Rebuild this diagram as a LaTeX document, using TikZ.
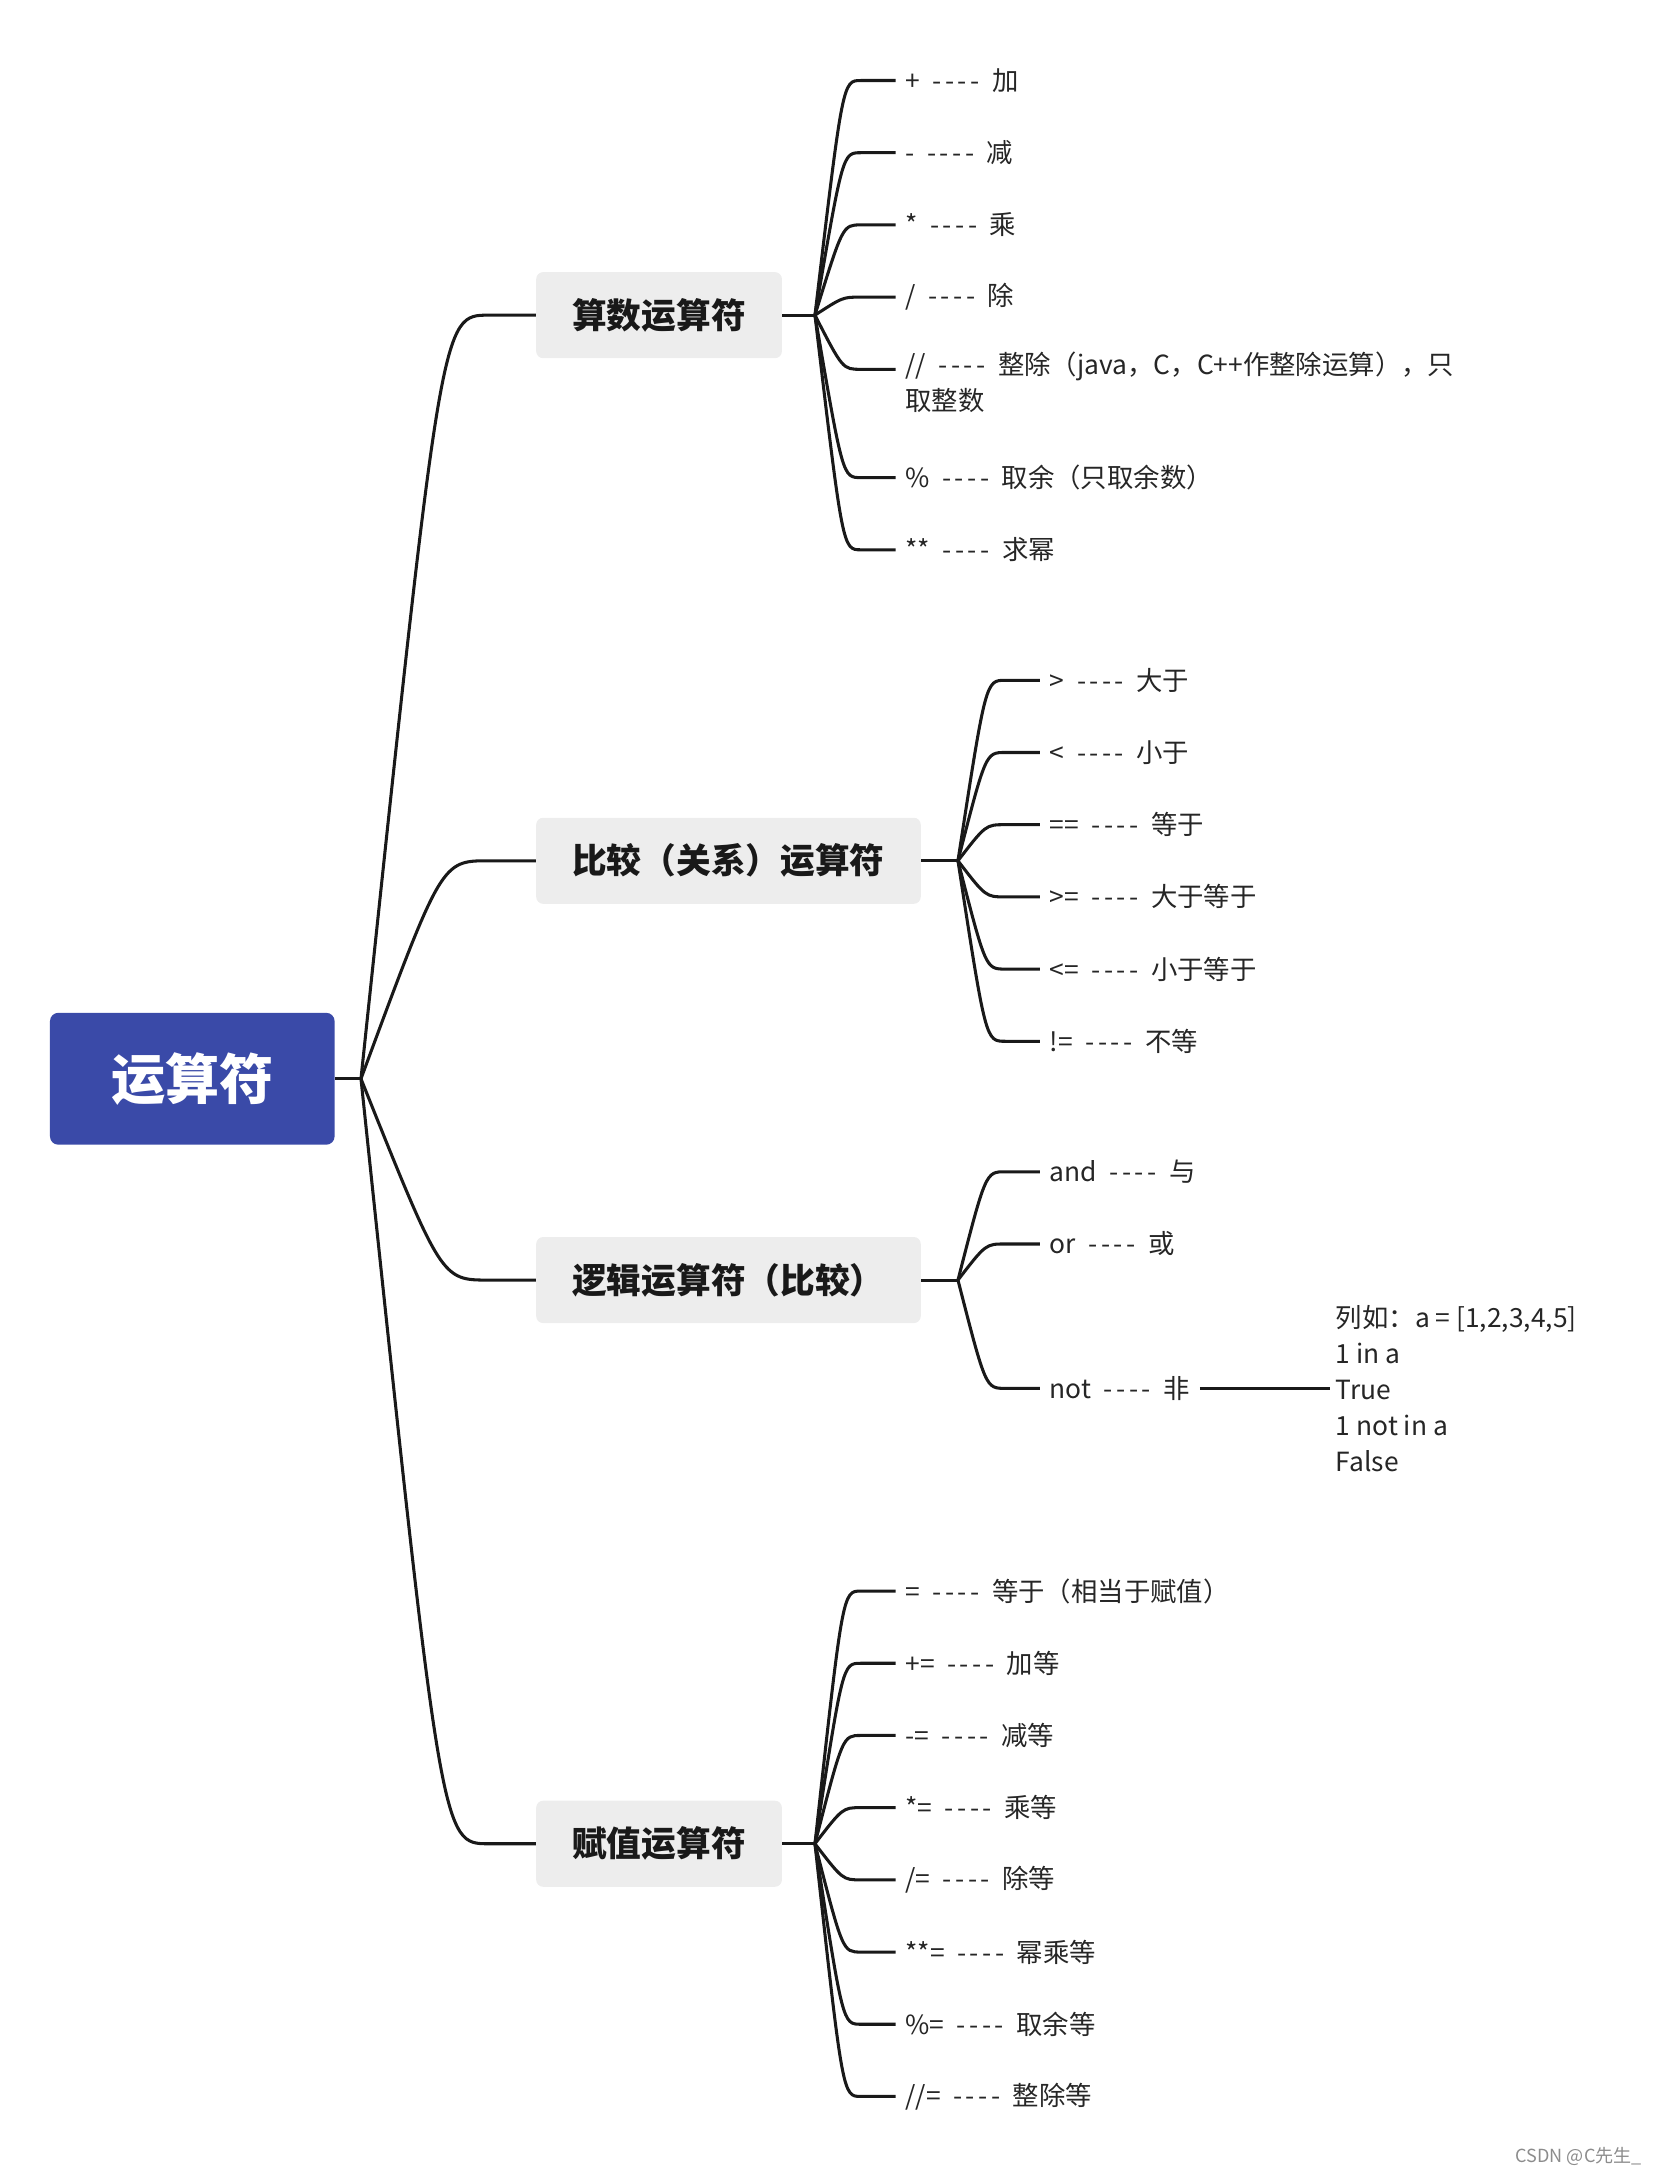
\documentclass[tikz,border=0pt]{standalone}
\usepackage{fontspec}
\setmainfont{Noto Sans CJK SC}
\newcommand\dsh{\hspace{9pt}\mbox{-}\kern2.5pt\mbox{-}\kern2.5pt\mbox{-}\kern2.5pt\mbox{-}\hspace{9pt}}
\begin{document}
\begin{tikzpicture}[x=1pt,y=-1pt,
  conn/.style={line width=2.2pt,black!90},
  leaf/.style={anchor=west,inner xsep=7pt,inner ysep=2pt,font=\fontsize{19}{26}\selectfont,text=black!85},
  br/.style={fill=black!7,rounded corners=5pt,minimum height=62pt,inner xsep=26pt,font=\fontsize{25}{30}\selectfont\bfseries,text=black!90}]
\useasboundingbox (0,0) rectangle (1193,1563);
\node[fill={rgb,255:red,58;green,74;blue,168},rounded corners=6pt,minimum width=205pt,minimum height=95pt,text=white,font=\fontsize{39}{44}\selectfont\bfseries] (root) at (138.5,777) {运算符};
\coordinate (rj) at (260,777);
\node[br,anchor=west] (b1) at (386,227) {算数运算符};
\node[br,anchor=west] (b2) at (386,620) {比较（关系）运算符};
\node[br,anchor=west] (b3) at (386,922) {逻辑运算符（比较）};
\node[br,anchor=west] (b4) at (386,1328) {赋值运算符};
\draw[conn] (root.east) -- (rj);
\foreach \b/\y in {b1/227,b2/620,b3/922,b4/1328}
  \draw[conn] (rj) .. controls (318,\y) .. (352,\y) -- (\b.west);
% branch 1
\coordinate (j1) at (587,227);
\draw[conn] (b1.east) -- (j1);
\foreach \n/\y/\t in {a1/58/{+\dsh 加},a2/110/{-\dsh 减},a3/162/{*\dsh 乘},a4/214/{/\dsh 除},a6/344/{\%\dsh 取余（只取余数）},a7/396/{**\dsh 求幂}}{
  \node[leaf] (\n) at (645,\y) {\t};
  \draw[conn] (j1) .. controls (607,\y) .. (620,\y) -- (\n.west);
}
\node[leaf,anchor=north west,align=left] (a5) at (645,251) {//\dsh 整除（java，C，C++作整除运算），只\\取整数};
\coordinate (a5c) at (645,266);
\draw[conn] (j1) .. controls (607,266) .. (620,266) -- (a5c);
% branch 2
\coordinate (j2) at (690,620);
\draw[conn] (b2.east) -- (j2);
\foreach \n/\y/\t in {c1/490/{>\dsh 大于},c2/542/{<\dsh 小于},c3/594/{==\dsh 等于},c4/646/{>=\dsh 大于等于},c5/698/{<=\dsh 小于等于},c6/750/{!=\dsh 不等}}{
  \node[leaf] (\n) at (749,\y) {\t};
  \draw[conn] (j2) .. controls (710,\y) .. (724,\y) -- (\n.west);
}
% branch 3
\coordinate (j3) at (690,922);
\draw[conn] (b3.east) -- (j3);
\foreach \n/\y/\t in {d1/844/{and\dsh 与},d2/896/{or\dsh 或},d3/1000/{not\dsh 非}}{
  \node[leaf] (\n) at (749,\y) {\t};
  \draw[conn] (j3) .. controls (710,\y) .. (724,\y) -- (\n.west);
}
\node[leaf,anchor=west,align=left,inner xsep=4pt] (ex) at (958,1000) {列如：a = [1,2,3,4,5]\\1 in a\\True\\1 not in a\\False};
\draw[conn] (d3.east) -- (ex.west);
% branch 4
\coordinate (j4) at (587,1328);
\draw[conn] (b4.east) -- (j4);
\foreach \n/\y/\t in {e1/1146/{=\dsh 等于（相当于赋值）},e2/1198/{+=\dsh 加等},e3/1250/{-=\dsh 减等},e4/1302/{*=\dsh 乘等},e5/1354/{/=\dsh 除等},e6/1406/{**=\dsh 幂乘等},e7/1458/{\%=\dsh 取余等},e8/1510/{//=\dsh 整除等}}{
  \node[leaf] (\n) at (645,\y) {\t};
  \draw[conn] (j4) .. controls (607,\y) .. (620,\y) -- (\n.west);
}
\node[anchor=east,font=\fontsize{13}{15}\selectfont,text=black!45] (csdn) at (1186,1553) {CSDN @C先生\_};
\end{tikzpicture}
\end{document}
